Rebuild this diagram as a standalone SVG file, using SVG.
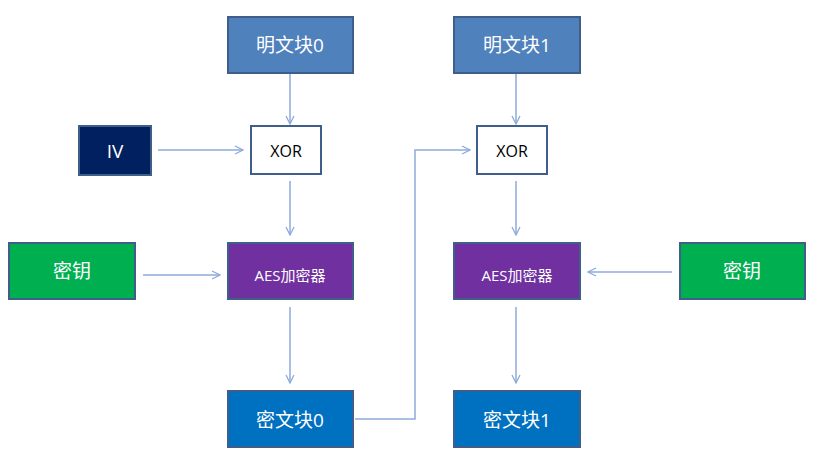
<svg xmlns="http://www.w3.org/2000/svg" width="817" height="465" viewBox="0 0 817 465">
<style>
.n{stroke:#3f5f8a;stroke-width:2}
.t{font-family:"Open Sans","Noto Sans CJK SC",sans-serif;font-size:19px;fill:#fff;text-anchor:middle;dominant-baseline:central}
.s{font-size:15px}
.c{fill:none;stroke:#8eaadb;stroke-width:1.5}
</style>
<defs><marker id="a" viewBox="0 0 10 10" refX="9" refY="5" markerWidth="10" markerHeight="10" markerUnits="userSpaceOnUse" orient="auto"><path d="M1,1L9,5L1,9" fill="none" stroke="#8eaadb" stroke-width="1.3"/></marker></defs>
<rect width="817" height="465" fill="#fff"/>
<g id="p0"><rect class="n" x="228" y="17" width="125" height="56" fill="#4f81bd"/><text class="t" x="290" y="45">明文块0</text></g>
<g id="p1"><rect class="n" x="454" y="17" width="126" height="56" fill="#4f81bd"/><text class="t" x="517" y="45">明文块1</text></g>
<g id="iv"><rect class="n" x="79" y="126" width="72" height="49" fill="#002060"/><text class="t" x="115" y="151">IV</text></g>
<g id="x0"><rect class="n" x="251" y="126" width="70" height="48" fill="#fff"/><text class="t s" x="286" y="151" style="fill:#000;font-size:16px">XOR</text></g>
<g id="x1"><rect class="n" x="477" y="126" width="70" height="48" fill="#fff"/><text class="t s" x="512" y="151" style="fill:#000;font-size:16px">XOR</text></g>
<g id="k0"><rect class="n" x="9" y="243" width="126" height="56" fill="#00b050"/><text class="t" x="72" y="271">密钥</text></g>
<g id="a0"><rect class="n" x="228" y="243" width="125" height="56" fill="#7030a0"/><text class="t s" x="290" y="275">AES加密器</text></g>
<g id="a1"><rect class="n" x="454" y="243" width="126" height="56" fill="#7030a0"/><text class="t s" x="517" y="275">AES加密器</text></g>
<g id="k1"><rect class="n" x="680" y="243" width="125" height="56" fill="#00b050"/><text class="t" x="742" y="271">密钥</text></g>
<g id="c0"><rect class="n" x="228" y="391" width="125" height="56" fill="#0070c0"/><text class="t" x="290" y="420">密文块0</text></g>
<g id="c1"><rect class="n" x="454" y="391" width="126" height="56" fill="#0070c0"/><text class="t" x="517" y="420">密文块1</text></g>
<g id="connectors">
<path class="c" d="M290,74V124" marker-end="url(#a)"/>
<path class="c" d="M158,150H243" marker-end="url(#a)"/>
<path class="c" d="M290,181V235" marker-end="url(#a)"/>
<path class="c" d="M143,275H220" marker-end="url(#a)"/>
<path class="c" d="M290,307V383" marker-end="url(#a)"/>
<path class="c" d="M355,419H415V150H470" marker-end="url(#a)"/>
<path class="c" d="M516,74V124" marker-end="url(#a)"/>
<path class="c" d="M516,181V235" marker-end="url(#a)"/>
<path class="c" d="M672,272H588" marker-end="url(#a)"/>
<path class="c" d="M516,307V383" marker-end="url(#a)"/>
</g>
</svg>
